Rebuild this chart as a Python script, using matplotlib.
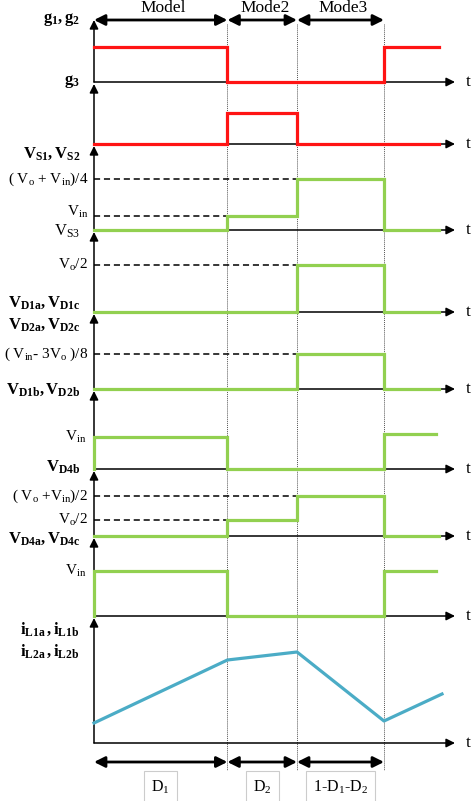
import matplotlib
matplotlib.use('Agg')
import matplotlib.pyplot as plt

plt.rcParams['font.family'] = ['Liberation Serif', 'DejaVu Serif']
plt.rcParams['mathtext.fontset'] = 'custom'
plt.rcParams['mathtext.rm'] = 'Liberation Serif'
plt.rcParams['mathtext.bf'] = 'Liberation Serif:bold'
plt.rcParams['mathtext.it'] = 'Liberation Serif:italic'

# switching instants, normalised to one period (end of plot = 1.2 T)
t_edges = [0, 0.46, 0.70, 1.0, 1.2]
mode_labels = ['Model', 'Mode2', 'Mode3']
duty_labels = ['D$_1$', 'D$_2$', '1-D$_1$-D$_2$']

# waveform levels per interval (relative to the channel's full height)
g12 = [1, 0, 0, 1]
g3 = [0, 1, 0, 0]
vs12 = [0, 0.28, 1, 0]
vs3 = [0, 0, 1, 0]
vd1a = [0, 0, 1, 0]
vd1b = [1, 0, 0, 1.08]
vd4b = [0, 0.4, 1, 0]
vd4a = [1, 0, 0, 1]
# inductor current at each switching instant
il_t = [0, 0.46, 0.70, 1.0, 1.2]
il = [0.20, 0.83, 0.91, 0.22, 0.49]

RED = '#ff1414'
GREEN = '#92d050'
BLUE = '#4bacc6'

X0, XT = 94, 290          # time axis origin and pixels per period
X_END = 455


def tx(t):
    return X0 + t * XT


# name, label lines, baseline y, height px, levels, colour, rise at start, end t
channels = [
    ('g12', [r'$\mathbf{g_1,g_2}$'], 82, 35, g12, RED, False, 1.19),
    ('g3', [r'$\mathbf{g_3}$'], 144, 31, g3, RED, False, 1.19),
    ('vs12', [r'$\mathbf{V_{S1},V_{S2}}$'], 230, 51, vs12, GREEN, False, 1.19),
    ('vs3', [r'$\mathrm{V_{S3}}$'], 312, 47, vs3, GREEN, False, 1.19),
    ('vd1a', [r'$\mathbf{V_{D1a},V_{D1c}}$', r'$\mathbf{V_{D2a},V_{D2c}}$'], 389, 35, vd1a, GREEN, False, 1.19),
    ('vd1b', [r'$\mathbf{V_{D1b},V_{D2b}}$'], 469, 32, vd1b, GREEN, True, 1.18),
    ('vd4b', [r'$\mathbf{V_{D4b}}$'], 536, 40, vd4b, GREEN, False, 1.19),
    ('vd4a', [r'$\mathbf{V_{D4a},V_{D4c}}$'], 616, 45, vd4a, GREEN, True, 1.18),
]
label_pos = {'g12': [20], 'g3': [82], 'vs12': [154], 'vs3': [231],
             'vd1a': [303, 325], 'vd1b': [390], 'vd4b': [467], 'vd4a': [539]}
IL_BASE, IL_H = 743, 100
il_labels = [r'$\mathbf{i_{L1a}\,,i_{L1b}}$', r'$\mathbf{i_{L2a}\,,i_{L2b}}$']

# dashed reference levels: channel, level, end t, label
refs = [
    ('vs12', 1, 0.70, r'( V$_{\rm o}$ + V$_{\rm in}$)/4'),
    ('vs12', 0.28, 0.46, r'V$_{\rm in}$'),
    ('vs3', 1, 0.70, r'V$_{\rm o}$/2'),
    ('vd1a', 1, 0.70, r'( V$_{\rm in}$- 3V$_{\rm o}$ )/8'),
    ('vd4b', 1, 0.70, r'( V$_{\rm o}$ +V$_{\rm in}$)/2'),
    ('vd4b', 0.4, 0.46, r'V$_{\rm o}$/2'),
]
plain_labels = [('vd1b', 1, r'V$_{\rm in}$'), ('vd4a', 1, r'V$_{\rm in}$')]

fig = plt.figure(figsize=(4.74, 8.01), dpi=100)
ax = fig.add_axes([0, 0, 1, 1])
ax.set_xlim(0, 474)
ax.set_ylim(801, 0)
ax.axis('off')

arrow = dict(arrowstyle='-|>', color='black', lw=1.1, mutation_scale=13,
             shrinkA=0, shrinkB=0)
dbl = dict(arrowstyle='<|-|>', color='black', lw=2.0, mutation_scale=16,
           shrinkA=0, shrinkB=0)

# mode boundaries
for t in t_edges[1:4]:
    ax.plot([tx(t), tx(t)], [24, 770], color='#555555', lw=0.7, ls=(0, (1, 1)), zorder=1)

# top mode arrows
for i, lab in enumerate(mode_labels):
    ax.annotate('', xy=(tx(t_edges[i + 1]), 20), xytext=(tx(t_edges[i]), 20), arrowprops=dbl)
    ax.text((tx(t_edges[i]) + tx(t_edges[i + 1])) / 2 + 3, 8, lab, ha='center', va='center',
            fontsize=12.5)

prev_top = 20
lookup = {}
for name, labels, base, h, lv, col, rise, t_end in channels:
    lookup[name] = (base, h)
    # axes
    ax.annotate('', xy=(X_END, base), xytext=(X0, base), arrowprops=arrow, zorder=2)
    ax.annotate('', xy=(X0, prev_top), xytext=(X0, base), arrowprops=arrow, zorder=2)
    ax.text(466, base, 't', ha='left', va='center', fontsize=12.5)
    prev_top = base + 2
    # waveform
    xs, ys = [], []
    if rise:
        xs.append(tx(0))
        ys.append(base)
    ends = t_edges[1:4] + [t_end]
    for i, v in enumerate(lv):
        xs += [tx(t_edges[i]), tx(ends[i])]
        ys += [base - v * h, base - v * h]
    ax.plot(xs, ys, color=col, lw=2.3, solid_joinstyle='miter', zorder=3)
    for lab, y in zip(labels, label_pos[name]):
        ax.text(80, y, lab, ha='right', va='center', fontsize=12)

for name, lvl, t_end, lab in refs:
    base, h = lookup[name]
    y = base - lvl * h
    ax.plot([X0, tx(t_end)], [y, y], color='black', lw=1.1, ls=(0, (4, 2.5)), zorder=2)
    ax.text(88, y - (4 if lab.endswith('in}$') else 0), lab, ha='right', va='center', fontsize=11)

for name, lvl, lab in plain_labels:
    base, h = lookup[name]
    ax.text(86, base - lvl * h, lab, ha='right', va='center', fontsize=11)

# inductor current
ax.annotate('', xy=(X_END, IL_BASE), xytext=(X0, IL_BASE), arrowprops=arrow, zorder=2)
ax.annotate('', xy=(X0, prev_top), xytext=(X0, IL_BASE), arrowprops=arrow, zorder=2)
ax.text(466, IL_BASE, 't', ha='left', va='center', fontsize=12.5)
ax.plot([tx(t) for t in il_t], [IL_BASE - v * IL_H for v in il], color=BLUE, lw=2.3, zorder=3)
ax.text(80, 629, il_labels[0], ha='right', va='center', fontsize=12)
ax.text(80, 651, il_labels[1], ha='right', va='center', fontsize=12)

# bottom duty arrows
for i, lab in enumerate(duty_labels):
    ax.annotate('', xy=(tx(t_edges[i + 1]), 762), xytext=(tx(t_edges[i]), 762), arrowprops=dbl)
    ax.text((tx(t_edges[i]) + tx(t_edges[i + 1])) / 2, 787, lab, ha='center', va='center',
            fontsize=11.5,
            bbox=dict(boxstyle='square,pad=0.45', fc='white', ec='#cccccc', lw=0.8))

fig.savefig('out.png', dpi=100)
